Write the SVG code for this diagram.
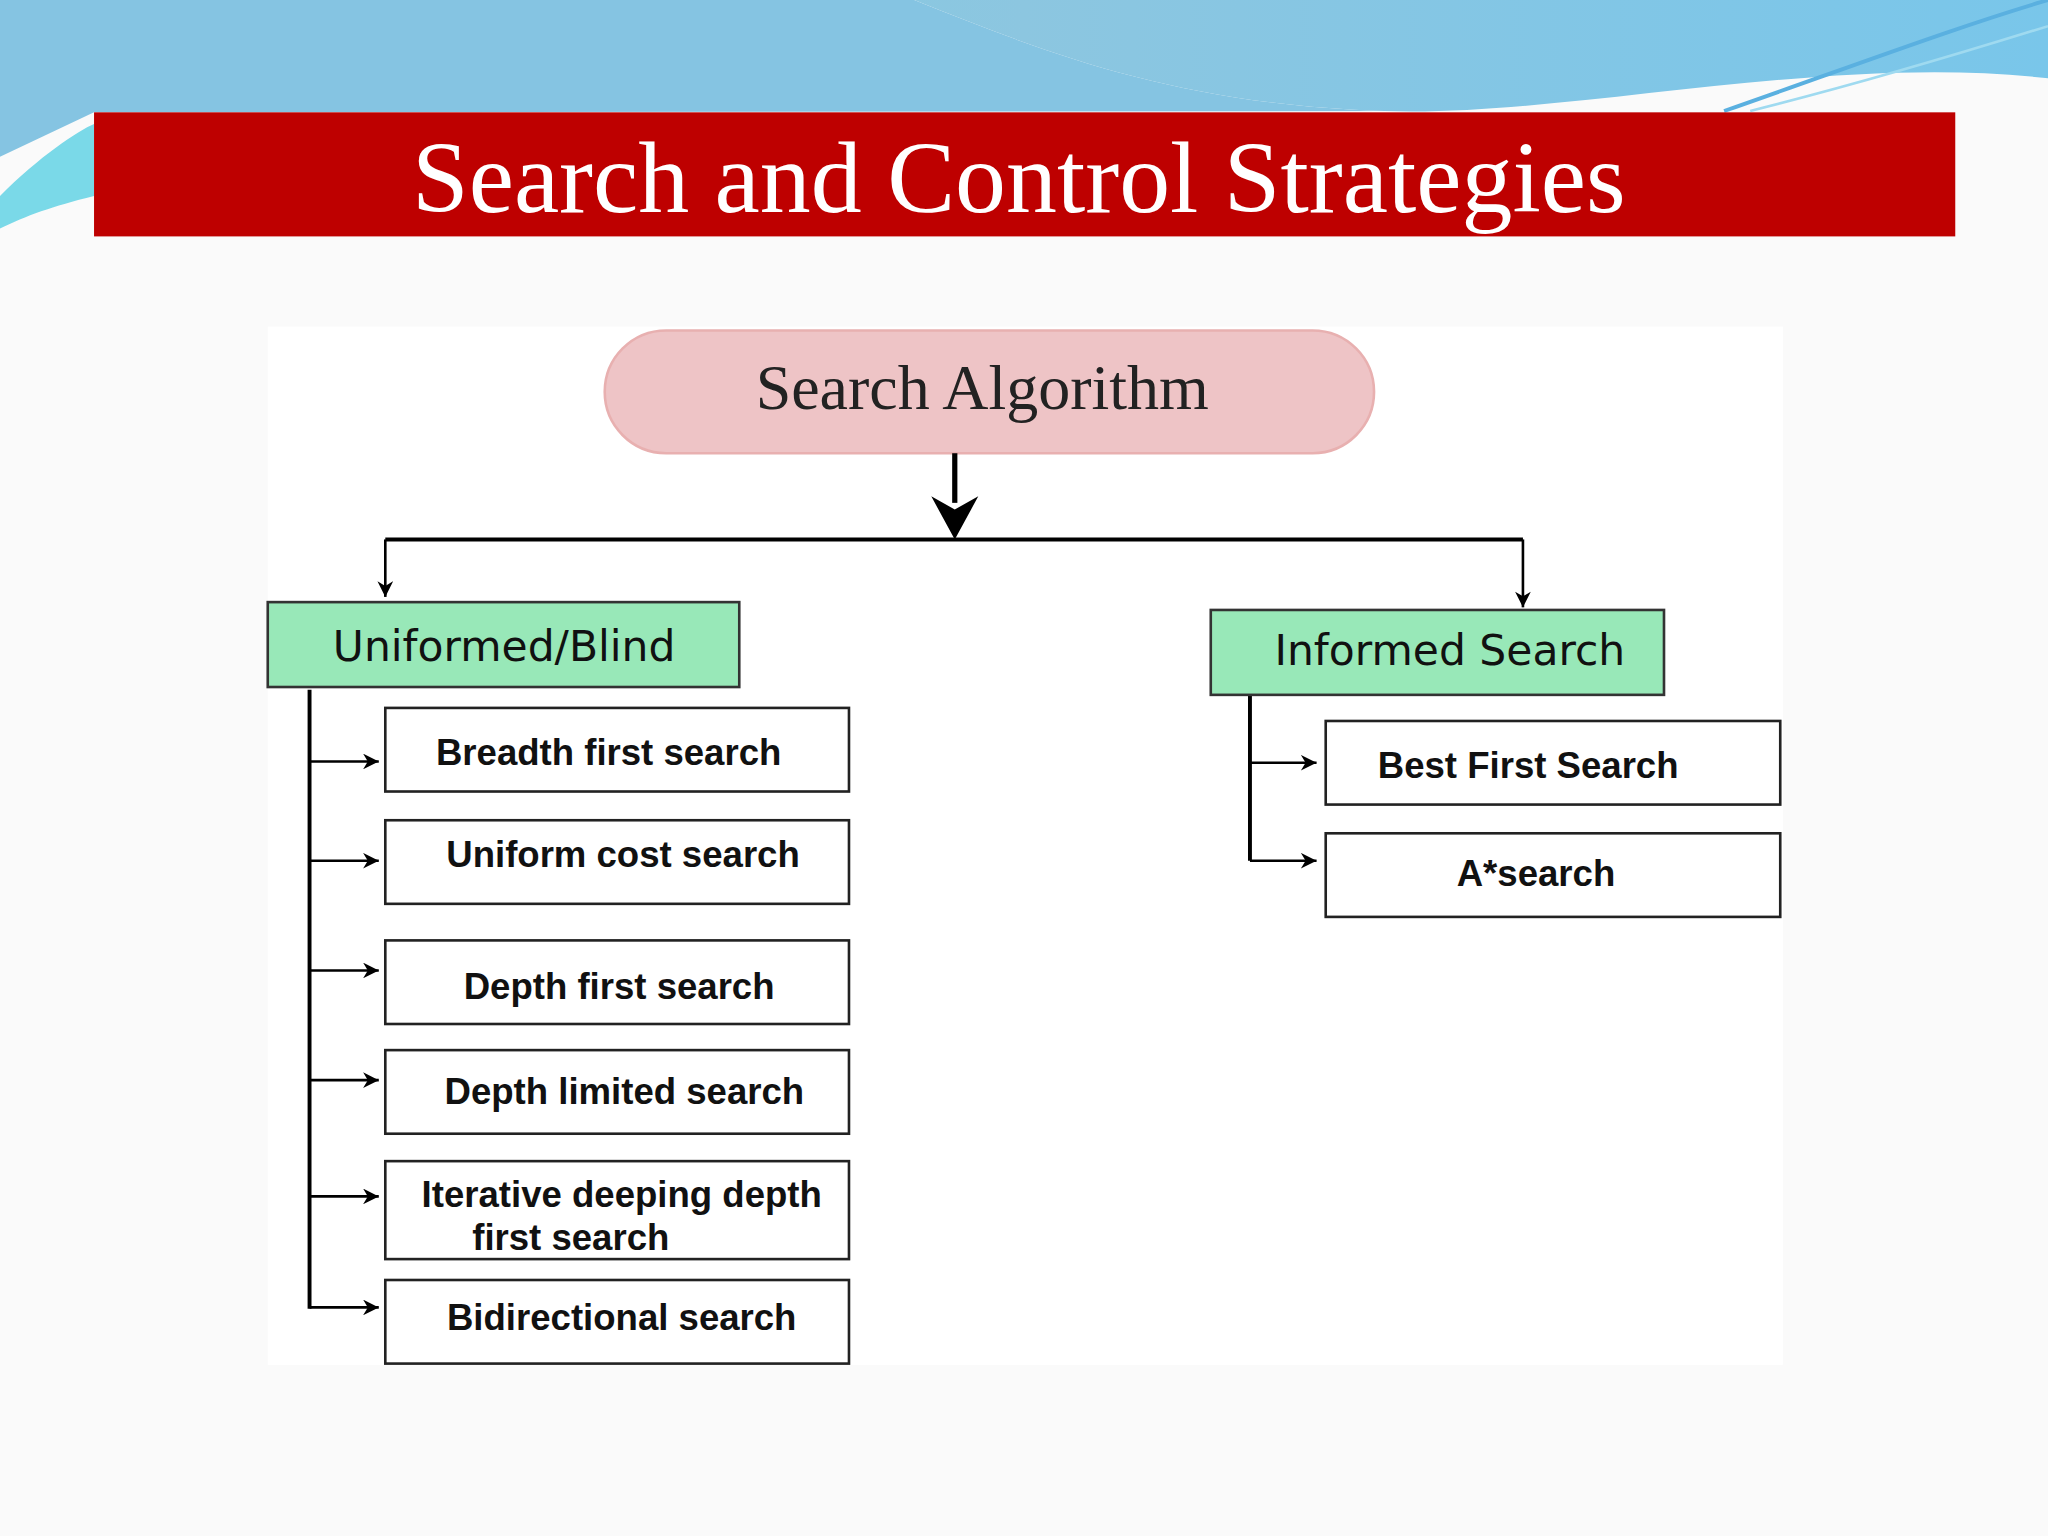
<svg xmlns="http://www.w3.org/2000/svg" width="2048" height="1536" viewBox="0 0 2048 1536">
<defs>
<linearGradient id="sky" x1="0" y1="0" x2="1" y2="0"><stop offset="0" stop-color="#7fd3e6"/><stop offset="0.5" stop-color="#8cc6e0"/><stop offset="1" stop-color="#79c6ea"/></linearGradient>
<marker id="ah" viewBox="0 0 10 10" refX="10" refY="5" markerWidth="16" markerHeight="12" orient="auto" markerUnits="userSpaceOnUse"><path d="M0,0 L10,5 L0,10 L3,5 Z" fill="#000"/></marker>
<style>
.box{fill:#fff;stroke:#222;stroke-width:2}
.grn{fill:#98e8b8;stroke:#333;stroke-width:2}
.t{font-family:"Liberation Sans",Arial,sans-serif;font-weight:bold;font-size:28px;fill:#111;text-anchor:middle}
.g{font-family:"DejaVu Sans",sans-serif;font-size:32.5px;fill:#111;text-anchor:middle}
.ln{stroke:#000;stroke-width:3;fill:none}
.ar{stroke:#000;stroke-width:2;fill:none;marker-end:url(#ah)}
</style>
</defs>
<rect width="2048" height="1536" fill="#fafafa"/>
<g transform="scale(1.30612)">
<path d="M0,0 H1568 V60 C1400,40 1200,90 1060,85 C900,80 800,40 700,0 Z" fill="url(#sky)"/>
<path d="M0,0 H700 C800,40 900,80 1060,85 L72,86 L0,120 Z" fill="#85c4e2"/>
<path d="M0,150 C30,120 60,100 72,95 L72,150 C40,158 20,165 0,175 Z" fill="#7ad9e8"/>
<path d="M1320,85 C1420,50 1500,20 1568,0" stroke="#5ab0e0" stroke-width="3" fill="none"/>
<path d="M1340,85 C1440,60 1520,35 1568,20" stroke="#9fdaf0" stroke-width="2" fill="none"/>
<g id="title"><rect x="72" y="86" width="1425" height="95" fill="#be0000"/>
<text x="780" y="162" font-family="Liberation Serif,serif" font-size="78" fill="#fff" text-anchor="middle">Search and Control Strategies</text></g>
<rect x="205" y="250" width="1160" height="795" fill="#fff"/>
<g id="root"><rect x="463" y="253" width="589" height="94" rx="47" fill="#eec4c6" stroke="#e8b0b0" stroke-width="2"/>
<text x="752" y="313" font-family="Liberation Serif,serif" font-size="49" fill="#222" text-anchor="middle">Search Algorithm</text></g>
<g id="connectors">
<line x1="731" y1="347" x2="731" y2="385" stroke="#000" stroke-width="4"/>
<path d="M713,380 L731,413 L749,380 L731,390 Z" fill="#000"/>
<path class="ln" d="M295,413 H1166"/>
<path class="ar" d="M295,413 V457"/>
<path class="ar" d="M1166,413 V465"/>
<path class="ln" d="M237,528 V1002"/>
<path class="ar" d="M237,583 H290"/><path class="ar" d="M237,659 H290"/><path class="ar" d="M237,743 H290"/><path class="ar" d="M237,827 H290"/><path class="ar" d="M237,916 H290"/><path class="ar" d="M237,1001 H290"/>
<path class="ln" d="M957,532 V659"/>
<path class="ar" d="M957,584 H1008"/><path class="ar" d="M957,659 H1008"/>
</g>
<g id="blind"><rect class="grn" x="205" y="461" width="361" height="65"/><text class="g" x="386" y="506">Uniformed/Blind</text></g>
<g id="informed"><rect class="grn" x="927" y="467" width="347" height="65"/><text class="g" x="1110" y="509">Informed Search</text></g>
<g id="bfs"><rect class="box" x="295" y="542" width="355" height="64"/><text class="t" x="466" y="586">Breadth first search</text></g>
<g id="ucs"><rect class="box" x="295" y="628" width="355" height="64"/><text class="t" x="477" y="664">Uniform cost search</text></g>
<g id="dfs"><rect class="box" x="295" y="720" width="355" height="64"/><text class="t" x="474" y="765">Depth first search</text></g>
<g id="dls"><rect class="box" x="295" y="804" width="355" height="64"/><text class="t" x="478" y="845">Depth limited search</text></g>
<g id="iddfs"><rect class="box" x="295" y="889" width="355" height="75"/><text class="t" x="476" y="924">Iterative deeping depth</text><text class="t" x="437" y="957">first search</text></g>
<g id="bid"><rect class="box" x="295" y="980" width="355" height="64"/><text class="t" x="476" y="1018">Bidirectional search</text></g>
<g id="best"><rect class="box" x="1015" y="552" width="348" height="64"/><text class="t" x="1170" y="596">Best First Search</text></g>
<g id="astar"><rect class="box" x="1015" y="638" width="348" height="64"/><text class="t" x="1176" y="678">A*search</text></g>
</g>
</svg>
